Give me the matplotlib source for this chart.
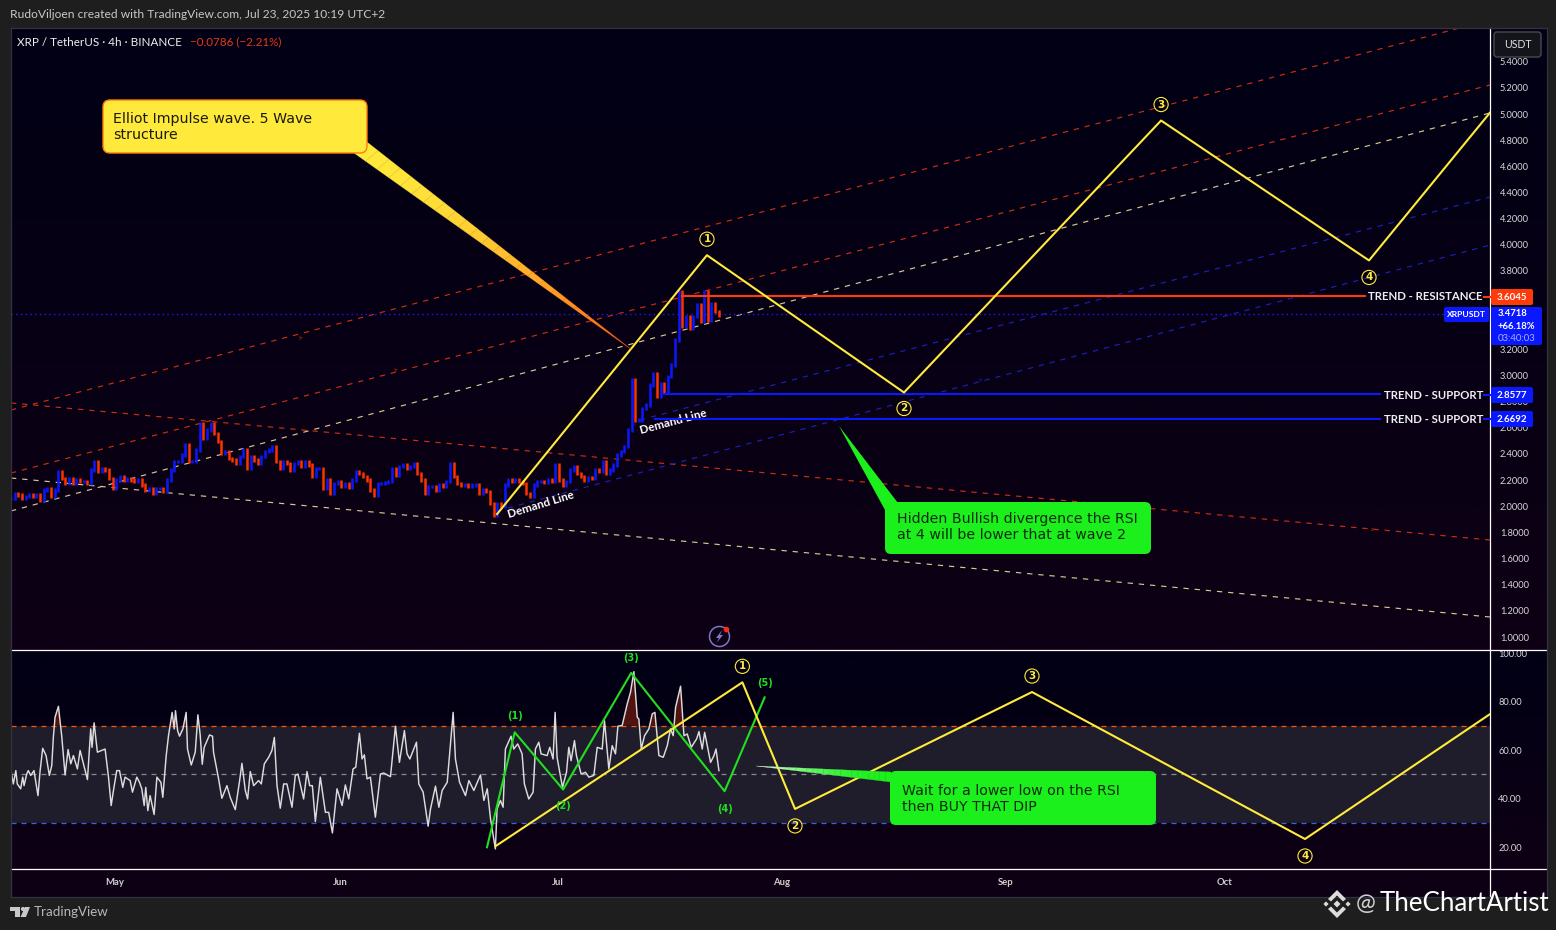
import numpy as np
import matplotlib
matplotlib.use("Agg")
import matplotlib.pyplot as plt
from matplotlib.patches import FancyBboxPatch, Polygon, Rectangle, Circle
from matplotlib.lines import Line2D

W, H = 1556, 930
BAR_PX = 1.2097   # pixels per 4h bar

# ---------- data ----------
close_step = 3  # bars between sampled candles
closes = [2.060,2.099,2.086,2.060,2.073,2.086,2.078,2.086,2.048,2.124,2.137,2.073,2.124,2.264,2.213,2.175,2.213,2.175,2.201,2.188,
2.188,2.175,2.277,2.341,2.264,2.290,2.277,2.213,2.137,2.201,2.226,2.201,2.213,2.201,2.188,2.201,2.162,2.124,2.137,2.099,
2.137,2.137,2.112,2.201,2.277,2.341,2.341,2.392,2.468,2.341,2.341,2.430,2.634,2.519,2.583,2.634,2.558,2.494,2.405,2.417,
2.366,2.354,2.328,2.379,2.430,2.290,2.379,2.354,2.328,2.379,2.417,2.430,2.456,2.341,2.290,2.341,2.328,2.277,2.328,2.341,
2.303,2.341,2.315,2.226,2.290,2.290,2.137,2.201,2.099,2.175,2.188,2.150,2.175,2.145,2.201,2.264,2.252,2.226,2.201,2.124,
2.086,2.175,2.175,2.180,2.188,2.290,2.239,2.303,2.315,2.290,2.303,2.328,2.252,2.201,2.099,2.150,2.150,2.124,2.162,2.155,
2.188,2.328,2.226,2.175,2.162,2.162,2.150,2.162,2.162,2.099,2.124,2.112,2.022,1.933,2.022,1.997,2.163,2.201,2.188,2.206,
2.188,2.175,2.099,2.073,2.163,2.188,2.188,2.180,2.201,2.188,2.316,2.201,2.163,2.188,2.277,2.303,2.252,2.226,2.201,2.221,
2.214,2.277,2.265,2.341,2.252,2.277,2.316,2.392,2.417,2.456,2.583,2.966,2.660,2.660,2.749,2.774,2.927,3.017,2.838,2.940,
2.876,2.991,3.080,3.272,3.641,3.373,3.450,3.361,3.450,3.539,3.412,3.641,3.424,3.552,3.488,3.463]

rsi_bar = [0,1.9,4,5.2,8,9.7,10.8,13,14.3,16.3,19,22.3,24,26.2,29,31.7,33.7,35,36.4,39.2,41.9,44.7,47.2,49.4,51.6,54.9,57.1,59.9,63.2,65.9,67,68.7,71.4,77.8,80.6,82.8,84.7,87.4,89.7,92.4,94.3,98.5,100.4,104,106.2,108.1,110.1,111.4,113.1,115,118.3,120.6,123.9,125.5,128.3,130.2,133.2,134.9,136,137.7,139.3,142.1,144.8,145.9,149,152.3,154.5,156.4,158.1,159.7,164.1,166.6,167.4,171.6,174.3,178.5,181.2,185.4,189,190.9,193.7,195.6,197.8,200.6,204.7,206.9,209.4,213,215.7,217.7,219.9,222.6,225.4,228.1,232.3,235,237.2,241.9,244.7,246.9,249.1,251.6,255.7,259.9,262.6,265.7,269.5,273.7,276.4,279.2,282.8,285,288,290.2,292.1,294.3,297.1,299.3,301.2,305.4,308.1,313.7,317.8,321.1,325.2,327.4,329.7,335.2,337.1,340.7,344.8,346.8,350.9,353.7,356.4,360.6,365.5,367.4,370.8,375.7,378.5,382.6,388.1,390.9,393.7,396.4,400.4,401.8,404.6,406.8,408.7,413.4,415.6,418.9,422.5,424.4,428,431.6,433.5,436.3,438.2,443.2,445.4,448.1,449.8,451.4,455.9,459.2,461.1,463,465.8,467.4,471.3,474.9,477.7,481.8,484.6,488.7,490.6,494.2,497,499.7,501.7,505.2,509.4,512.1,514.9,517.7,519,521,523.7,527.3,530.1,532.3,535.6,539.2,542.5,545.2,547.4,549.4,553.5,556.3,559,562.3,566.8,568.7,571.4,573.4,575.6,578.3,581.1,582.8,585.2]
rsi_val = [51.5,46,51.5,46,44,48.8,45.3,50.1,51.5,49.5,51.5,41.2,51.1,60.7,57.7,49.5,53.6,65.2,73.5,78,65.9,49.7,60.2,54.3,57.7,52.2,59.8,54.3,47.8,68.7,61.1,71.2,59.1,60.4,48.8,37.1,43.3,51.5,51.5,44.6,48.8,47.4,42.6,48.8,46.7,44,37.1,44.6,35,41.2,33.4,48.8,46.7,40.5,57.7,65.9,75.5,68.7,76.2,68,65.7,68.7,75.5,60.4,53.8,59.1,74.5,66.2,54.1,61.1,66.2,65.7,59.1,48.1,40.1,45.3,40.5,35.4,47.4,54.5,43.3,39.8,51.1,45.3,47.4,46,54.3,57,59.8,65.2,45.3,36,46,46,36.4,49.5,50.1,39.8,51.1,45.3,45.3,30.5,48.8,34.3,34.3,25.8,44,37.1,45.6,39.8,52.2,52.9,66.9,56.3,58,48.1,48.8,39.8,32.3,50.1,50.5,49,69.8,54.9,68,58.4,56.3,63.2,46,42.6,28.6,35.7,45.1,36.4,43.3,46.7,75.5,56.3,46.7,41.2,47.4,43.3,49.7,39.2,44,31.6,19.2,35.7,39.2,36.4,60.4,65.7,60.4,62.5,58.4,46,39.8,42.6,60.4,63.2,58.4,57.7,61.1,56.3,75.5,57,44.6,50.8,61.1,55.6,63.9,57.7,50.1,50.8,48.8,49.5,61.1,60.4,72.1,52.2,61.8,58.4,69.8,70.1,79,83.8,92.3,73.5,72.8,60.4,65.9,68.7,74.9,75.5,57.7,57,61.8,68.7,65.9,77.6,86.3,65.9,66.6,61.1,64.6,67.6,60.4,67.3,61.8,54.9,57.7,60.4,51.5]

wave_bar = [401.8,575.3,738.2,950.7,1122.6,1222.6]
wave_price = [1.94,3.92,2.87,4.95,3.88,5.01]
wave_labels = ['','1','2','3','4','']

rsi_wave_bar = [400.4,604.6,648.1,844,1069.7,1222.6]
rsi_wave_val = [20.3,87.9,35.7,83.9,23.3,74.8]
rsi_wave_labels = ['','1','2','3','4','']

green_bar = [393.5,416.4,456.4,512.7,589.9,623]
green_val = [19.9,67.3,43.7,91.8,43,81.7]
green_labels = ['','(1)','(2)','(3)','(4)','(5)']

channels_red = [([0,1222.6],[2.736,5.719]), ([0,1222.6],[2.254,5.222]), ([0,1222.6],[2.790,1.742])]
channels_beige = [([0,1222.6],[1.964,5.008]), ([0,1222.6],[2.216,1.153])]
channels_blue = [([401.8,1222.6],[1.964,3.998]), ([520,1222.6],[2.660,4.365])]

resistance = 3.6045
supports = [2.8577, 2.6692]
last_price = 3.4718
# 3.4 and 3.6 sit under the price tags in the reference
price_ticks = [1.0,1.2,1.4,1.6,1.8,2.0,2.2,2.4,2.6,2.8,3.0,3.2,3.8,4.0,4.2,4.4,4.6,4.8,5.0,5.2,5.4]
rsi_ticks = [20,40,60,80,100]
month_bars = [86,272,452,637,822,1003]
month_names = ['May','Jun','Jul','Aug','Sep','Oct']

# ---------- colours ----------
FRAME = '#1e1e1e'
UP = '#0b18ff'
DOWN = '#ff3300'
YEL = '#ffeb3b'
GRN = '#1fe01f'
BOX_GRN = '#1cf01c'
FONT = ['Lato', 'DejaVu Sans']
plt.rcParams['font.family'] = FONT

fig = plt.figure(figsize=(W/100, H/100), dpi=100, facecolor=FRAME)

def ax_px(x0, y0, x1, y1, **kw):
    return fig.add_axes([x0/W, 1-y1/H, (x1-x0)/W, (y1-y0)/H], **kw)
def P(x, y):
    return (x/W, 1-y/H)
def poly(pts, z=4, **kw):
    fig.add_artist(Polygon([P(*p) for p in pts], closed=True, transform=fig.transFigure, zorder=z, **kw))
T2 = matplotlib.transforms.Affine2D().scale(1/W, 1/H)+fig.transFigure
def rbox(x0, y0, x1, y1, fc, ec='none', r=4, z=5, lw=1):
    p = FancyBboxPatch((x0, H-y1), x1-x0, y1-y0, boxstyle=f'round,pad=0,rounding_size={r}',
                       fc=fc, ec=ec, lw=lw, zorder=z, transform=T2)
    fig.add_artist(p)
def ftext(x, y, s, size=8, color='white', ha='left', va='center', z=7, **kw):
    fig.text(x/W, 1-y/H, s, fontsize=size, color=color, ha=ha, va=va, zorder=z, **kw)
def fline(xs, ys, color='white', lw=1, z=3, **kw):
    fig.add_artist(Line2D([x/W for x in xs], [1-y/H for y in ys], color=color, lw=lw, zorder=z,
                          transform=fig.transFigure, **kw))

# background gradient of each pane (navy at the top, purple at the bottom)
c_top = np.array([1, 0, 20])/255
c_bot = np.array([14, 0, 20])/255
t = np.linspace(0, 1, 256)[:, None, None]
for y0, y1 in ((28, 650), (650, 869)):
    bg = ax_px(11, y0, 1547, y1, zorder=-5)
    bg.imshow(c_top*(1-t)+c_bot*t, aspect='auto', extent=(0, 1, 0, 1))
    bg.axis('off')
fig.add_artist(Rectangle(P(11, 897), 1536/W, 28/H, fc=c_bot, ec='none', transform=fig.transFigure, zorder=-5))

# price panel
ax = ax_px(11, 28, 1490, 650, facecolor='none')
rs = ax_px(11, 650, 1490, 869, facecolor='none')
xlim = (0, (1490-11)/BAR_PX)
ax.set_xlim(*xlim)
ax.set_ylim(1+(637-650)/130.75, 1+(637-28)/130.75)
rs.set_xlim(*xlim)
rs.set_ylim(100-(869-653)/2.425, 100-(650-653)/2.425)

DASH = (0, (4.5, 5))
for xs, ys in channels_red:
    ax.plot(xs, ys, color='#c8300f', lw=0.85, ls=DASH, zorder=2)
for xs, ys in channels_beige:
    ax.plot(xs, ys, color='#d8c890', lw=0.85, ls=DASH, zorder=2)
for xs, ys in channels_blue:
    ax.plot(xs, ys, color='#1a22b4', lw=0.85, ls=DASH, zorder=2)

# candles
c = np.array(closes)
o = np.r_[c[0], c[:-1]]
x = np.arange(len(c))*close_step
up = c >= o
for mask, col in ((up, UP), (~up, DOWN)):
    ax.vlines(x[mask], np.minimum(o, c)[mask]-0.012, np.maximum(o, c)[mask]+0.012, color=col, lw=1.8, zorder=4)

ax.axhline(last_price, color='#1a1aff', lw=1, ls=(0, (1, 2.4)), zorder=3)
ax.plot([(682-11)/BAR_PX, (1365-11)/BAR_PX], [resistance]*2, color='#ff3a0a', lw=1.5, zorder=4)
ax.plot([(664-11)/BAR_PX, (1380-11)/BAR_PX], [supports[0]]*2, color='#0a18ff', lw=1.5, zorder=4)
ax.plot([(655-11)/BAR_PX, (1380-11)/BAR_PX], [supports[1]]*2, color='#0a18ff', lw=1.5, zorder=4)

ax.plot(wave_bar, wave_price, color=YEL, lw=1.5, zorder=5)

def circled(axis, bx, by, s, dy):
    axis.annotate(s, (bx, by), xytext=(0, dy), textcoords='offset pixels', color=YEL, fontsize=7.5,
                  ha='center', va='center', fontweight='bold', zorder=6, fontfamily='DejaVu Sans',
                  bbox=dict(boxstyle='circle,pad=0.2', fc='none', ec=YEL, lw=0.8))

for bx, by, s, dy in zip(wave_bar, wave_price, wave_labels, [0, 16, -16, 16, -17, 0]):
    if s:
        circled(ax, bx, by, s, dy)

ax.yaxis.tick_right()
ax.set_yticks(price_ticks, [f'{v:.4f}' for v in price_ticks])
ax.tick_params(axis='y', length=0, labelsize=6.7, labelcolor='#d8d8d8', pad=7)
ax.set_xticks([])
for s in ('top', 'left'):
    ax.spines[s].set_visible(False)
ax.spines['right'].set_color('white')
ax.spines['bottom'].set_color('white')
ax.spines['bottom'].set_linewidth(0.9)
ax.spines['right'].set_linewidth(0.9)

# rotated labels
ax.text((541-11)/BAR_PX, 1+(637-505)/130.75, 'Demand Line', color='white', fontsize=8.4, rotation=17,
        ha='center', va='center', fontweight='bold', zorder=3, rotation_mode='anchor')
ax.text((673-11)/BAR_PX, 1+(637-422)/130.75, 'Demand Line', color='white', fontsize=8.4, rotation=15,
        ha='center', va='center', fontweight='bold', zorder=3, rotation_mode='anchor')

# small arrow heads on the channels
for px, py, col, rot in [(300, 338, '#c8300f', 15), (395, 370, '#c8300f', 15), (1372, 530, '#c8300f', -5),
                         (980, 380, '#1a22b4', 15), (1110, 296, '#1a22b4', 15)]:
    ax.text((px-11)/BAR_PX, 1+(637-py)/130.75, '>', color=col, fontsize=6, rotation=rot, ha='center', va='center', zorder=2)

# RSI panel
rs.axhspan(30, 70, color='#1f1d2b', lw=0, zorder=1)
rs.axhline(70, color='#ff5500', lw=0.9, ls=(0, (4, 4)), zorder=2)
rs.axhline(50, color='#8a8a8a', lw=0.9, ls=(0, (4, 4)), zorder=2)
rs.axhline(30, color='#3a62e0', lw=0.9, ls=(0, (4, 4)), zorder=2)
rb, rv = np.array(rsi_bar), np.array(rsi_val)
rs.fill_between(rb, 70, rv, where=rv > 70, interpolate=True, color='#6a1a10', alpha=0.75, lw=0, zorder=2)
rs.plot(rb, rv, color='#dcdcdc', lw=1.05, zorder=3)
rs.plot(green_bar, green_val, color=GRN, lw=1.5, zorder=4)
rs.plot(rsi_wave_bar, rsi_wave_val, color=YEL, lw=1.5, zorder=4)
for bx, by, s, dy in zip(green_bar, green_val, green_labels, [0, 16, -16, 15, -18, 14]):
    if s:
        rs.annotate(s, (bx, by), xytext=(0, dy), textcoords='offset pixels', color=GRN, fontsize=7,
                    ha='center', va='center', fontweight='bold', zorder=6, fontfamily='DejaVu Sans')
for bx, by, s, dy in zip(rsi_wave_bar, rsi_wave_val, rsi_wave_labels, [0, 16, -17, 16, -17, 0]):
    if s:
        circled(rs, bx, by, s, dy)

rs.yaxis.tick_right()
rs.set_yticks(rsi_ticks, [f'{v:.2f}' for v in rsi_ticks])
rs.tick_params(axis='y', length=0, labelsize=6.7, labelcolor='#d8d8d8', pad=6)
rs.set_xticks(month_bars, month_names)
rs.tick_params(axis='x', length=0, labelsize=6.8, labelcolor='#d0d0d0', pad=6.5)
for lab in rs.get_xticklabels():
    lab.set_fontweight('bold')
for s in ('top', 'left'):
    rs.spines[s].set_visible(False)
rs.spines['right'].set_color('white')
rs.spines['bottom'].set_color('white')
rs.spines['bottom'].set_linewidth(0.9)
rs.spines['right'].set_linewidth(0.9)
fline([1490, 1490], [869, 897], lw=0.9)
fline([1490, 1546], [869, 869], lw=0.9)
fline([1490, 1546], [650, 650], lw=0.9)

# frame edge
EDGE = '#33323f'
fline([11, 11], [28, 897], color=EDGE, lw=0.9)
fline([11, 1547], [28, 28], color=EDGE, lw=0.9)
fline([1547, 1547], [28, 897], color=EDGE, lw=0.9)
fline([11, 1547], [897, 897], color=EDGE, lw=0.9)

# header and legend
ftext(10, 15, 'RudoViljoen created with TradingView.com, Jul 23, 2025 10:19 UTC+2', size=8.65, color='#c8c8c8')
ftext(17, 42, 'XRP / TetherUS · 4h · BINANCE', size=8.4, color='#f0f0f0')
ftext(190, 42, '−0.0786 (−2.21%)', size=8.4, color='#e8381a')

# USDT button
rbox(1494, 32, 1541, 57, '#14141c', '#4a4a4a', r=3)
ftext(1517.5, 44.5, 'USDT', size=7.6, color='#e0e0e0', ha='center')

# price tags
rbox(1491, 289, 1533, 305, '#ff3a0a', r=2)
ftext(1512, 297, '3.6045', size=7, ha='center', fontweight='bold')
rbox(1491, 307, 1542, 345, '#0a18ff', r=2)
ftext(1498, 314, '3.4718', size=6.8, fontweight='bold')
ftext(1498, 326, '+66.18%', size=6.8, fontweight='bold')
ftext(1498, 338, '03:40:03', size=6.8, color='#a9b0ff')
rbox(1444, 307, 1489, 322, '#0a18ff', r=2)
ftext(1466.5, 314.5, 'XRPUSDT', size=6.1, ha='center', fontweight='bold')
for yy, s in ((395, '2.8577'), (419, '2.6692')):
    rbox(1491, yy-8, 1533, yy+8, '#0a18ff', r=2)
    ftext(1512, yy, s, size=7, ha='center', fontweight='bold')
fline([1484, 1490], [297, 297], color='#ff3a0a', lw=1.5)
fline([1484, 1490], [395, 395], color='#0a18ff', lw=1.5)
fline([1484, 1490], [419, 419], color='#0a18ff', lw=1.5)
ftext(1483, 297, 'TREND - RESISTANCE', size=8.2, ha='right', color='#eeeeee', fontweight='bold')
ftext(1483, 395, 'TREND - SUPPORT', size=8.2, ha='right', color='#eeeeee', fontweight='bold')
ftext(1483, 419, 'TREND - SUPPORT', size=8.2, ha='right', color='#eeeeee', fontweight='bold')

# yellow call-out
n = 24
tip = np.array([632.0, 350.0]); a0 = np.array([354.0, 153.0]); b0 = np.array([367.0, 142.0])
for i in range(n):
    f0, f1 = i/n, (i+1)/n
    col = np.array(matplotlib.colors.to_rgb('#ffe93b'))*(1-f1**2) + np.array(matplotlib.colors.to_rgb('#ff5a10'))*f1**2
    poly([a0+(tip-a0)*f0, b0+(tip-b0)*f0, b0+(tip-b0)*f1, a0+(tip-a0)*f1], fc=col, ec=col, lw=0.2)
rbox(103, 100, 367, 153, '#ffe93b', '#ff7a10', r=7, lw=1)
ftext(113, 127, 'Elliot Impulse wave. 5 Wave\nstructure', size=10.2, color='#1a1a10', linespacing=1.2, fontfamily='DejaVu Sans')

# green call-outs
poly([(839, 426), (885, 510), (898, 503)], fc=BOX_GRN, ec='none')
rbox(885, 502, 1151, 554, BOX_GRN, r=6)
ftext(897, 527, 'Hidden Bullish divergence the RSI\nat 4 will be lower that at wave 2', size=10.2, color='#0e2a0e', linespacing=1.2, fontfamily='DejaVu Sans')

tp = np.array([756.0, 766.0]); a0 = np.array([891.0, 772.0]); b0 = np.array([891.0, 782.0])
for i in range(n):
    f0, f1 = i/n, (i+1)/n
    col = np.array([1, 1, 1])*(1-f1)**2 + np.array(matplotlib.colors.to_rgb(BOX_GRN))*(1-(1-f1)**2)
    poly([tp+(a0-tp)*f0, tp+(b0-tp)*f0, tp+(b0-tp)*f1, tp+(a0-tp)*f1], fc=col, ec=col, lw=0.2)
rbox(890, 771, 1156, 825, BOX_GRN, r=6)
ftext(902, 799, 'Wait for a lower low on the RSI\nthen BUY THAT DIP', size=10.2, color='#0e2a0e', linespacing=1.2, fontfamily='DejaVu Sans')

# flash icon
fig.add_artist(Circle((719.5, H-636.5), 10, fc='none', ec='#7a78c8', lw=1.1, transform=T2, zorder=6))
poly([(722, 630), (716, 638), (719, 638), (716.5, 643), (723, 635), (720, 635)], z=6, fc='#7a78c8', ec='none')
fig.add_artist(Circle((726.5, H-629.5), 2.8, fc='#ff2a10', ec='none', transform=T2, zorder=7))

# footer logo
LOGO = '#c8c8c8'
poly([(10, 907), (20, 907), (20, 917), (15, 917), (15, 911), (10, 911)], z=7, fc=LOGO, ec='none')
fig.add_artist(Circle((23, H-909), 2.1, fc=LOGO, ec='none', transform=T2, zorder=7))
poly([(25, 907), (30, 907), (26, 917), (20.5, 917)], z=7, fc=LOGO, ec='none')
ftext(33.5, 912, 'TradingView', size=9.6, color='#b8b8b8')

# watermark
WM = '#dcdcdc'
cx, cy = 1337, 904
def diamond(x0, y0, r):
    poly([(x0, y0-r), (x0+r, y0), (x0, y0+r), (x0-r, y0)], z=9, fc=WM, ec='none')
diamond(cx, cy, 3.5)
diamond(cx-11, cy, 2.6)
diamond(cx+11, cy, 2.6)
poly([(cx, cy-14), (cx+9, cy-5), (cx+6, cy-2.5), (cx, cy-8.5), (cx-6, cy-2.5), (cx-9, cy-5)], z=9, fc=WM, ec='none')
poly([(cx, cy+14), (cx+9, cy+5), (cx+6, cy+2.5), (cx, cy+8.5), (cx-6, cy+2.5), (cx-9, cy+5)], z=9, fc=WM, ec='none')
ftext(1356, 903, '@', size=17, color='#cfcfcf', z=9)
ftext(1380, 903, 'TheChartArtist', size=18.6, color='white', z=9)

fig.savefig('out.png', dpi=100, facecolor=FRAME)
